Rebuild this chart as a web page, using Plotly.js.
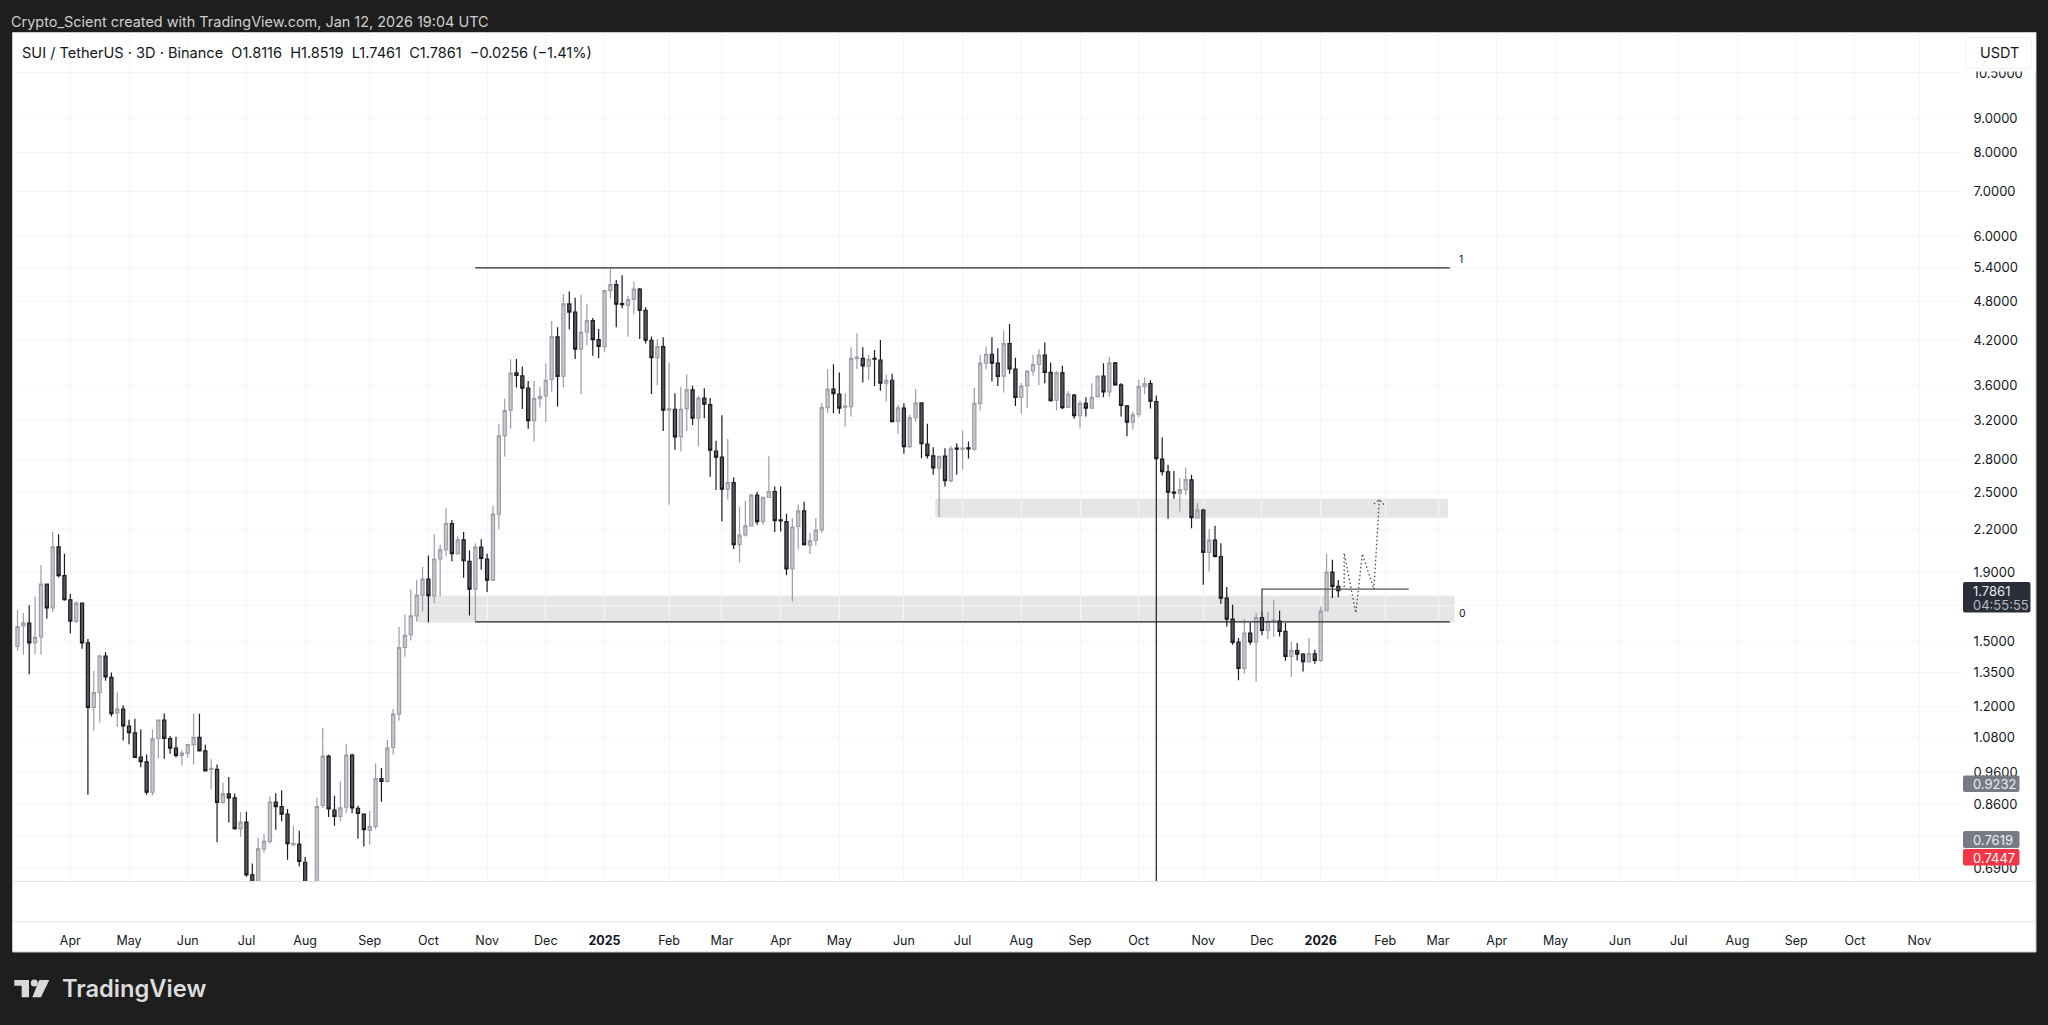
<!DOCTYPE html>
<html><head><meta charset="utf-8"><script src="https://cdn.plot.ly/plotly-3.0.1.min.js"></script>
<style>html,body{margin:0;padding:0;background:#1e1e1e;overflow:hidden}#c{width:2048px;height:1025px}</style></head>
<body><div id="c"></div><script>
const firstBar='2024-03-07', barCount=226, barStepDays=3;
const opens=[1.475,1.583,1.598,1.493,1.524,1.826,1.683,2.075,1.880,1.731,
1.607,1.711,1.493,1.198,1.260,1.428,1.327,1.175,1.191,1.123,
1.098,1.010,.994,.896,1.077,1.147,1.076,1.042,1.016,1.024,
1.054,1.081,1.032,.969,.969,.865,.891,.879,.791,.809,
.675,.62,.738,.757,.866,.853,.831,.749,.750,.705,
.64,.62,.856,1.014,.843,.825,.851,1.017,.848,.831,
.786,.797,.939,.930,1.044,1.170,1.470,1.536,1.638,1.759,
1.857,1.755,1.990,2.054,2.247,2.026,2.125,1.974,1.795,2.073,
1.990,1.851,2.321,3.036,3.312,3.763,3.725,3.571,3.195,3.445,
3.476,3.677,4.256,3.720,4.763,4.631,4.080,4.33,4.50,4.217,
4.115,4.985,5.089,4.77,4.74,4.84,5.01,4.662,4.207,3.963,
4.117,3.312,3.322,3.026,3.33,3.55,3.222,3.45,3.375,2.88,
2.82,2.527,2.585,2.09,2.162,2.229,2.476,2.262,2.456,2.507,
2.275,2.262,1.923,2.224,2.347,2.087,2.12,2.199,3.341,3.558,
3.50,3.345,3.352,3.955,3.955,3.85,3.955,3.929,3.634,3.669,
3.19,3.335,2.924,3.229,3.395,2.948,2.832,2.718,2.83,2.603,
2.908,2.897,2.912,2.897,3.39,3.889,4.01,3.889,3.72,4.16,
3.81,3.46,3.597,3.787,3.872,4.0,3.77,3.426,3.763,3.345,
3.487,3.25,3.39,3.335,3.468,3.72,3.525,3.893,3.61,3.36,
3.18,3.263,3.589,3.628,3.41,2.80,2.682,2.502,2.494,2.523,
2.609,2.291,2.352,2.035,2.123,2.007,1.741,1.62,1.498,1.368,
1.544,1.498,1.629,1.558,1.609,1.609,1.553,1.426,1.454,1.437,
1.40,1.439,1.406,1.667,1.903,1.8116];
const highs=[1.673,1.654,1.698,1.750,1.949,1.830,2.186,2.166,2.026,1.765,
1.721,1.715,1.513,1.357,1.434,1.448,1.350,1.261,1.206,1.148,
1.152,1.110,1.019,1.110,1.148,1.173,1.086,1.083,1.036,1.056,
1.173,1.172,1.054,1.003,.985,.925,.944,.892,.837,.838,
.702,.766,.777,.883,.893,.902,.846,.799,.785,.718,
.655,.879,1.116,1.018,.885,.930,1.056,1.022,.855,.834,
.840,.988,.973,1.072,1.191,1.577,1.644,1.795,1.853,1.936,
2.014,2.166,2.089,2.368,2.275,2.155,2.182,2.049,2.100,2.130,
2.026,2.387,3.157,3.445,3.942,3.946,3.845,3.660,3.660,3.586,
3.885,4.494,4.397,4.930,4.970,4.867,4.913,4.76,4.54,4.373,
5.00,5.37,5.171,5.256,4.895,5.14,5.03,4.71,4.26,4.224,
4.25,3.90,3.509,3.589,3.746,3.60,3.48,3.57,3.453,2.982,
3.255,3.0,2.63,2.38,2.429,2.485,2.504,2.465,2.832,2.551,
2.551,2.323,2.288,2.40,2.42,2.175,2.288,3.39,3.813,3.875,
3.766,3.509,4.108,4.31,4.108,4.0,4.07,4.212,3.737,3.75,
3.37,3.39,3.259,3.562,3.403,3.16,2.918,2.835,2.908,2.93,
2.955,3.088,2.975,3.578,4.0,4.117,4.25,4.093,4.348,4.449,
3.963,3.634,3.79,4.0,4.08,4.175,3.90,3.787,3.855,3.534,
3.50,3.419,3.46,3.63,3.725,3.889,3.976,3.905,3.634,3.37,
3.296,3.673,3.707,3.669,3.482,3.016,2.747,2.69,2.624,2.721,
2.654,2.41,2.363,2.204,2.229,2.10,1.808,1.702,1.519,1.62,
1.601,1.654,1.663,1.66,1.731,1.667,1.598,1.498,1.493,1.442,
1.519,1.459,1.692,2.026,1.985,1.8519];
const lows=[1.454,1.434,1.341,1.437,1.434,1.622,1.660,1.870,1.725,1.542,
1.598,1.464,.888,1.107,1.137,1.312,1.161,1.120,1.069,1.056,
1.007,.976,.888,.886,1.007,1.005,1.022,1.009,.981,1.009,
.985,1.030,.962,.904,.755,.861,.808,.788,.769,.671,
.60,.60,.729,.752,.788,.811,.711,.745,.695,.62,
.60,.60,.849,.823,.799,.811,.834,.834,.764,.744,
.749,.790,.867,.926,1.019,1.145,1.424,1.506,1.607,1.663,
1.601,1.711,1.750,2.007,1.974,2.019,1.867,1.640,1.607,1.918,
1.777,1.845,2.204,2.826,3.107,3.578,3.326,3.107,2.975,3.341,
3.184,3.529,3.353,3.578,4.369,3.946,3.50,4.14,3.99,3.955,
4.046,4.857,4.397,4.694,4.26,4.60,4.224,4.16,3.50,3.61,
3.085,2.396,2.891,2.876,3.085,3.149,2.93,3.222,2.638,2.521,
2.262,2.44,2.06,1.967,2.15,2.224,2.237,2.237,2.451,2.182,
2.186,1.882,1.721,2.054,2.085,2.024,2.084,2.175,3.277,3.277,
3.27,3.13,3.24,3.813,3.64,3.673,3.597,3.538,3.41,3.178,
3.055,2.852,2.91,3.184,2.81,2.806,2.654,2.297,2.551,2.585,
2.654,2.70,2.806,2.884,3.307,3.81,3.652,3.597,3.517,3.75,
3.36,3.27,3.335,3.725,3.61,3.63,3.41,3.307,3.322,3.335,
3.215,3.11,3.24,3.33,3.46,3.46,3.468,3.60,3.24,3.03,
3.096,3.233,3.50,3.33,.55,2.648,2.283,2.445,2.341,2.478,
2.211,2.288,1.822,1.907,2.0,1.708,1.58,1.484,1.314,1.344,
1.484,1.307,1.533,1.513,1.524,1.527,1.405,1.329,1.406,1.354,
1.395,1.391,1.399,1.663,1.741,1.7461];
const closes=[1.579,1.598,1.493,1.522,1.826,1.683,2.075,1.880,1.731,1.609,
1.711,1.493,1.198,1.260,1.428,1.329,1.172,1.191,1.124,1.098,
1.009,.995,.896,1.075,1.147,1.077,1.042,1.016,1.024,1.054,
1.081,1.032,.964,.972,.865,.891,.879,.791,.809,.675,
.62,.738,.757,.866,.853,.831,.751,.752,.707,.64,
.62,.853,1.014,.846,.825,.849,1.017,.849,.833,.788,
.797,.939,.930,1.042,1.170,1.469,1.533,1.638,1.759,1.857,
1.755,1.990,2.054,2.247,2.026,2.125,1.978,1.795,2.073,1.994,
1.851,2.321,3.033,3.307,3.759,3.729,3.571,3.195,3.445,3.473,
3.669,4.256,3.716,4.764,4.631,4.080,4.324,4.50,4.217,4.121,
4.985,5.09,4.76,4.75,4.834,5.01,4.662,4.207,3.963,4.117,
3.312,3.326,3.022,3.322,3.55,3.222,3.45,3.38,2.888,2.82,
2.527,2.585,2.09,2.16,2.229,2.476,2.262,2.456,2.507,2.27,
2.267,1.923,2.22,2.347,2.09,2.118,2.197,3.341,3.558,3.505,
3.335,3.357,3.955,3.97,3.855,3.942,3.942,3.634,3.669,3.184,
3.338,2.924,3.225,3.395,2.952,2.835,2.718,2.826,2.603,2.90,
2.897,2.908,2.90,3.39,3.889,4.01,3.889,3.716,4.16,3.813,
3.46,3.597,3.787,3.872,4.0,3.77,3.42,3.763,3.341,3.50,
3.25,3.39,3.335,3.46,3.72,3.525,3.889,3.61,3.365,3.18,
3.259,3.589,3.628,3.415,2.806,2.684,2.502,2.494,2.523,2.611,
2.292,2.352,2.035,2.123,2.007,1.741,1.62,1.496,1.368,1.544,
1.498,1.629,1.558,1.607,1.614,1.553,1.426,1.454,1.437,1.40,
1.44,1.406,1.665,1.903,1.8117,1.7861];
const priceTicks=[10.5,9,8,7,6,5.4,4.8,4.2,3.6,3.2,2.8,2.5,2.2,1.9,1.7,1.5,1.35,1.2,1.08,.96,.86,.77,.69];
const priceLabels=['10.5000','9.0000','8.0000','7.0000','6.0000','5.4000','4.8000','4.2000','3.6000','3.2000','2.8000','2.5000','2.2000','1.9000','','1.5000','1.3500','1.2000','1.0800','0.9600','0.8600','','0.6900'];
const monthTicks=['2024-04-03','2024-05-03','2024-06-02','2024-07-02','2024-08-01','2024-09-03','2024-10-03','2024-11-02','2024-12-02','2025-01-01','2025-02-03','2025-03-02','2025-04-01','2025-05-01','2025-06-03','2025-07-03','2025-08-02','2025-09-01','2025-10-01','2025-11-03','2025-12-03','2026-01-02','2026-02-04','2026-03-03','2026-04-02','2026-05-02','2026-06-04','2026-07-04','2026-08-03','2026-09-02','2026-10-02','2026-11-04'];
const monthLabels=['Apr','May','Jun','Jul','Aug','Sep','Oct','Nov','Dec','<b>2025</b>','Feb','Mar','Apr','May','Jun','Jul','Aug','Sep','Oct','Nov','Dec','<b>2026</b>','Feb','Mar','Apr','May','Jun','Jul','Aug','Sep','Oct','Nov'];
const levelDates=['2024-10-27','2026-03-09'];
const levelOne=[5.39,5.39];
const levelZero=[1.605,1.605];
const stepDates=['2025-12-03','2025-12-03','2026-02-16'];
const stepPrices=[1.629,1.795,1.795];
const pathDates=['2026-01-14','2026-01-14','2026-01-20','2026-01-23 06:00','2026-01-29 05:00','2026-01-31 23:00'];
const pathPrices=[1.808,2.031,1.654,2.026,1.795,2.437];
const headDates=['2026-01-29 05:00','2026-01-31 23:00','2026-02-03 21:00'];
const headPrices=[2.403,2.437,2.389];
const lowZone={x0:'2024-09-27',x1:'2026-03-11 12:00',y0:1.601,y1:1.755};
const highZone={x0:'2025-06-19',x1:'2026-03-08',y0:2.291,y1:2.445};

const dates=[];
for(let i=0;i<barCount;i++){dates.push(new Date(Date.parse(firstBar+'T00:00:00Z')+i*barStepDays*864e5).toISOString().slice(0,10));}

const L=13,R=1962,T=33,B=922;
const px=x=>(x-L)/(R-L), py=y=>(B-y)/(B-T);
const UI='Inter, "Liberation Sans", sans-serif', INK='#131722';
const rect=(x0,y0,x1,y1,fill,layer,line)=>({type:'rect',xref:'paper',yref:'paper',x0:px(x0),x1:px(x1),y0:py(y0),y1:py(y1),fillcolor:fill,layer:layer||'above',line:line||{width:0}});
const rrect=(x0,y0,x1,y1,r,fill,line)=>{const a=px(x0),b=px(x1),c=py(y0),d=py(y1),rx=r/(R-L),ry=r/(B-T);
 return {type:'path',xref:'paper',yref:'paper',layer:'above',fillcolor:fill,line:line||{width:0},
 path:`M${a+rx} ${c}L${b-rx} ${c}Q${b} ${c} ${b} ${c-ry}L${b} ${d+ry}Q${b} ${d} ${b-rx} ${d}L${a+rx} ${d}Q${a} ${d} ${a} ${d+ry}L${a} ${c-ry}Q${a} ${c} ${a+rx} ${c}Z`};};
const hline=(x0,x1,y,c)=>({type:'line',xref:'paper',yref:'paper',x0:px(x0),x1:px(x1),y0:py(y),y1:py(y),layer:'below',line:{color:c||'#e0e3eb',width:1}});
const poly=(pts,fill)=>({type:'path',xref:'paper',yref:'paper',layer:'above',fillcolor:fill,line:{width:0},path:'M'+pts.map(p=>px(p[0])+' '+py(p[1])).join('L')+'Z'});
const note=(x,y,text,size,color,anchor,extra)=>Object.assign({xref:'paper',yref:'paper',x:px(x),y:py(y),text,showarrow:false,xanchor:anchor||'left',yanchor:'middle',borderpad:0,font:{family:UI,size,color}},extra||{});

const traces=[
{type:'candlestick',x:dates,open:opens,high:highs,low:lows,close:closes,whiskerwidth:0,hoverinfo:'skip',showlegend:false,
 increasing:{line:{color:'#9c9da6',width:1.2},fillcolor:'#c8c9cf'},decreasing:{line:{color:'#1c1c20',width:1.2},fillcolor:'#58585d'}},
{type:'scatter',mode:'lines',x:levelDates,y:levelOne,line:{color:'#26262a',width:1.3},hoverinfo:'skip',showlegend:false},
{type:'scatter',mode:'lines',x:levelDates,y:levelZero,line:{color:'#26262a',width:1.3},hoverinfo:'skip',showlegend:false},
{type:'scatter',mode:'lines',x:stepDates,y:stepPrices,line:{color:'#55555a',width:1.4},hoverinfo:'skip',showlegend:false},
{type:'scatter',mode:'lines',x:pathDates,y:pathPrices,line:{color:'#4a4a4e',width:1.3,dash:'1.5px,2.5px'},hoverinfo:'skip',showlegend:false},
{type:'scatter',mode:'lines',x:headDates,y:headPrices,line:{color:'#4a4a4e',width:1.3,dash:'1.5px,2.5px'},hoverinfo:'skip',showlegend:false}
];

const zone=z=>Object.assign({type:'rect',xref:'x',yref:'y',layer:'below',fillcolor:'rgba(120,120,125,0.19)',line:{width:0}},z);
const shapes=[
 rect(12.5,32.5,2036,952,'#ffffff','below',{color:'#c9c9c9',width:1}),
 zone(lowZone),zone(highZone),
 hline(13,2036,881.5),hline(13,2036,922),
 rect(1962.5,33,2035.5,71.5,'#ffffff'),
 rrect(1966,37.5,2031.5,68.5,5,'#ffffff',{color:'#f0f1f4',width:1}),
 rrect(1963,582,2030.5,612.5,2,'#2a2e39'),
 rrect(1963,775.5,2019.5,792,2,'#787b86'),
 rrect(1963,831,2019.5,848,2,'#787b86'),
 rrect(1963,849,2019.5,865.5,2,'#f23645'),
 poly([[14.3,980],[29,980],[29,997.3],[21.7,997.3],[21.7,985.7],[14.3,985.7]],'#d9d9d9'),
 poly([[39.3,980],[49.3,980],[41,997.3],[32.3,997.3]],'#d9d9d9'),
 {type:'circle',xref:'paper',yref:'paper',layer:'above',fillcolor:'#d9d9d9',line:{width:0},x0:px(30.8),x1:px(37.8),y0:py(986.5),y1:py(979.5)}
];
const nb='\u00a0';
const annotations=[
 note(10,21.5,'Crypto_Scient created with TradingView.com, Jan 12, 2026 19:04 UTC',14.45,'#cfcfcf'),
 note(21,53,'SUI / TetherUS · 3D · Binance'+nb+nb+'O1.8116'+nb+nb+'H1.8519'+nb+nb+'L1.7461'+nb+nb+'C1.7861'+nb+nb+'−0.0256 (−1.41%)',14.55,INK),
 note(1999,53,'USDT',14.4,INK,'center'),
 note(1972,591,'1.7861',13,'#e8e9ec'),
 note(1972,605,'04:55:55',13,'#b6b9c2'),
 note(1972,784,'0.9232',13,'#eceef2'),
 note(1972,840,'0.7619',13,'#eceef2'),
 note(1972,857.5,'0.7447',13,'#ffffff'),
 note(1458,259,'1',10.5,INK),
 note(1458,613,'0',10.5,INK),
 Object.assign(note(61,988,'TradingView',23.7,'#dcdcdc'),{font:{family:UI,size:23.7,color:'#dcdcdc',weight:600}})
];

Plotly.newPlot('c',traces,{
 width:2048,height:1025,showlegend:false,paper_bgcolor:'#1e1e1e',plot_bgcolor:'#ffffff',
 margin:{l:L,r:2048-R,t:T,b:1025-B,pad:0},boxgap:0.24,
 xaxis:{type:'date',range:['2024-03-04 17:00','2026-11-25 18:00'],anchor:'free',position:0,tickmode:'array',tickvals:monthTicks,ticktext:monthLabels,tickangle:0,
  showgrid:true,gridcolor:'#f4f5f7',gridwidth:1,zeroline:false,showline:false,ticks:'outside',ticklen:7,tickcolor:'rgba(0,0,0,0)',tickfont:{family:UI,size:12.5,color:INK},rangeslider:{visible:false},fixedrange:true,automargin:false},
 yaxis:{type:'log',side:'right',domain:[41/889,1],range:[-0.1797,1.0806],tickmode:'array',tickvals:priceTicks,ticktext:priceLabels,
  showgrid:true,gridcolor:'#f4f5f7',gridwidth:1,zeroline:false,showline:false,ticks:'outside',ticklen:8,tickcolor:'rgba(0,0,0,0)',tickfont:{family:UI,size:13,color:INK},fixedrange:true,automargin:false},
 shapes,annotations
},{staticPlot:true,displayModeBar:false});
</script></body></html>
